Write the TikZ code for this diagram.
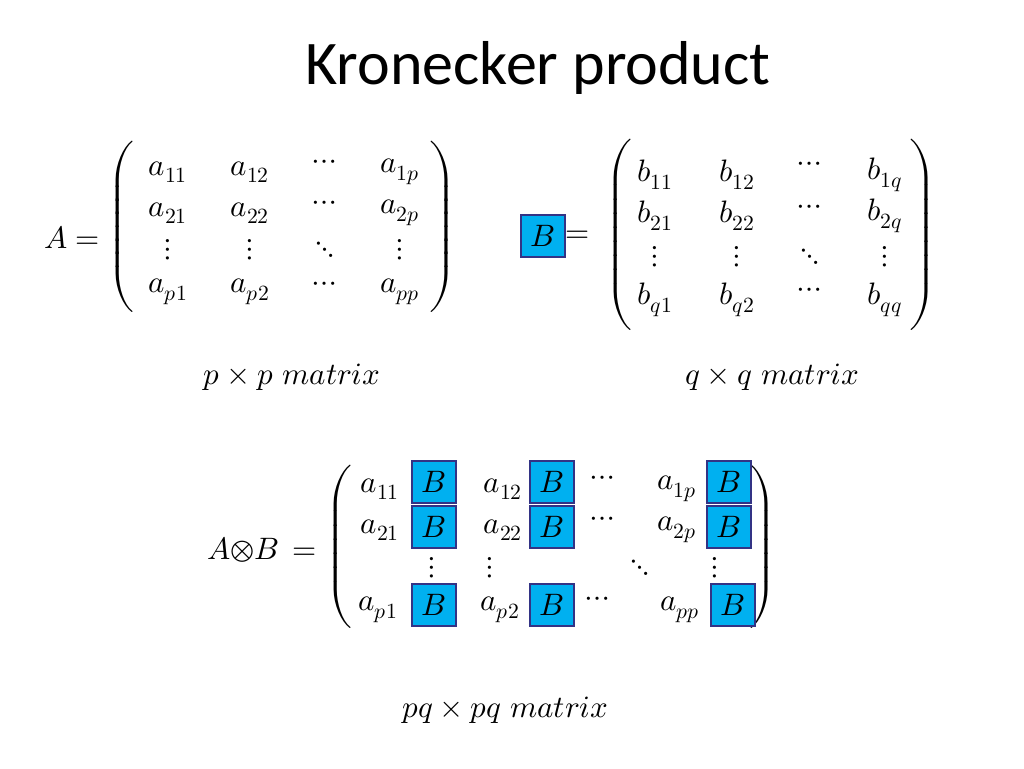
\documentclass[tikz,border=0pt]{standalone}
\usepackage{fontspec}
\usepackage{unicode-math}
\setmainfont{Carlito}
\setmathfont{Latin Modern Math}
\begin{document}
\begin{tikzpicture}[x=1pt,y=-1pt,
  m/.style={font=\fontsize{31}{34}\selectfont, inner sep=0pt},
  bx/.style={draw=blue!40!black!80, fill={rgb,255:red,0;green,176;blue,240}, line width=1.2pt, minimum width=44pt, minimum height=42pt, inner sep=0pt, font=\fontsize{31}{34}\selectfont},
  par/.style={inner sep=0pt}]
\useasboundingbox (0,0) rectangle (1024,768);
\node[font=\fontsize{62}{66}\selectfont] (title) at (538,68) {Kronecker product};
% A matrix
\node[m] (Aeq) at (72,237) {$A=$};
\node[par] (Al) at (122,228) {\fontsize{31}{34}\selectfont$\left(\vrule height 80pt depth 80pt width 0pt\right.$};
\node[par] (Ar) at (442,228) {\fontsize{31}{34}\selectfont$\left.\vrule height 80pt depth 80pt width 0pt\right)$};
\node[m] (a11) at (168,172) {$a_{11}$};
\node[m] (a12) at (250,172) {$a_{12}$};
\node[m] (a1d) at (325,165) {$\cdots$};
\node[m] (a1p) at (400,172) {$a_{1p}$};
\node[m] (a21) at (168,213) {$a_{21}$};
\node[m] (a22) at (250,213) {$a_{22}$};
\node[m] (a2d) at (325,206) {$\cdots$};
\node[m] (a2p) at (400,213) {$a_{2p}$};
\node[m] (av1) at (168,250) {$\vdots$};
\node[m] (av2) at (250,250) {$\vdots$};
\node[m] (avd) at (325,250) {$\ddots$};
\node[m] (avp) at (400,250) {$\vdots$};
\node[m] (ap1) at (168,292) {$a_{p1}$};
\node[m] (ap2) at (250,292) {$a_{p2}$};
\node[m] (apd) at (325,287) {$\cdots$};
\node[m] (app) at (400,292) {$a_{pp}$};
\node[m] (Alab) at (292,377) {$p\times p\;matrix$};
% B matrix
\node[bx] (Bbox) at (543,236) {$B$};
\node[m] (Beq) at (578,237) {$=$};
\node[par] (Bl) at (620,236) {\fontsize{31}{34}\selectfont$\left(\vrule height 90pt depth 90pt width 0pt\right.$};
\node[par] (Br) at (922,236) {\fontsize{31}{34}\selectfont$\left.\vrule height 90pt depth 90pt width 0pt\right)$};
\node[m] (b11) at (655,175) {$b_{11}$};
\node[m] (b12) at (737,175) {$b_{12}$};
\node[m] (b1d) at (810,167) {$\cdots$};
\node[m] (b1q) at (885,175) {$b_{1q}$};
\node[m] (b21) at (655,216) {$b_{21}$};
\node[m] (b22) at (737,216) {$b_{22}$};
\node[m] (b2d) at (810,210) {$\cdots$};
\node[m] (b2q) at (885,216) {$b_{2q}$};
\node[m] (bv1) at (655,257) {$\vdots$};
\node[m] (bv2) at (737,257) {$\vdots$};
\node[m] (bvd) at (810,257) {$\ddots$};
\node[m] (bvq) at (885,257) {$\vdots$};
\node[m] (bq1) at (655,300) {$b_{q1}$};
\node[m] (bq2) at (737,300) {$b_{q2}$};
\node[m] (bqd) at (810,293) {$\cdots$};
\node[m] (bqq) at (885,300) {$b_{qq}$};
\node[m] (Blab) at (772,377) {$q\times q\;matrix$};
% Kronecker
\node[m] (Keq) at (262,550) {$A{\otimes}B\,=$};
\node[par] (Kl) at (340,548) {\fontsize{31}{34}\selectfont$\left(\vrule height 76pt depth 76pt width 0pt\right.$};
\node[par] (Kr) at (762,548) {\fontsize{31}{34}\selectfont$\left.\vrule height 76pt depth 76pt width 0pt\right)$};
\node[m] (k11) at (380,489) {$a_{11}$};
\node[bx] (K11) at (434,482) {$B$};
\node[m] (k12) at (503,489) {$a_{12}$};
\node[bx] (K12) at (552,482) {$B$};
\node[m] (k1d) at (603,481) {$\cdots$};
\node[m] (k1p) at (677,489) {$a_{1p}$};
\node[bx] (K1p) at (729,482) {$B$};
\node[m] (k21) at (380,530) {$a_{21}$};
\node[bx] (K21) at (434,527) {$B$};
\node[m] (k22) at (503,530) {$a_{22}$};
\node[bx] (K22) at (552,527) {$B$};
\node[m] (k2d) at (603,522) {$\cdots$};
\node[m] (k2p) at (677,530) {$a_{2p}$};
\node[bx] (K2p) at (729,527) {$B$};
\node[m] (kv1) at (432,568) {$\vdots$};
\node[m] (kv2) at (490,568) {$\vdots$};
\node[m] (kvd) at (640,568) {$\ddots$};
\node[m] (kvp) at (715,568) {$\vdots$};
\node[m] (kp1) at (378,610) {$a_{p1}$};
\node[bx] (Kp1) at (434,605) {$B$};
\node[m] (kp2) at (500,610) {$a_{p2}$};
\node[bx] (Kp2) at (552,605) {$B$};
\node[m] (kpd) at (598,602) {$\cdots$};
\node[m] (kpp) at (680,610) {$a_{pp}$};
\node[bx] (Kpp) at (733,605) {$B$};
\node[m] (Klab) at (505,710) {$pq\times pq\;matrix$};
\end{tikzpicture}
\end{document}
